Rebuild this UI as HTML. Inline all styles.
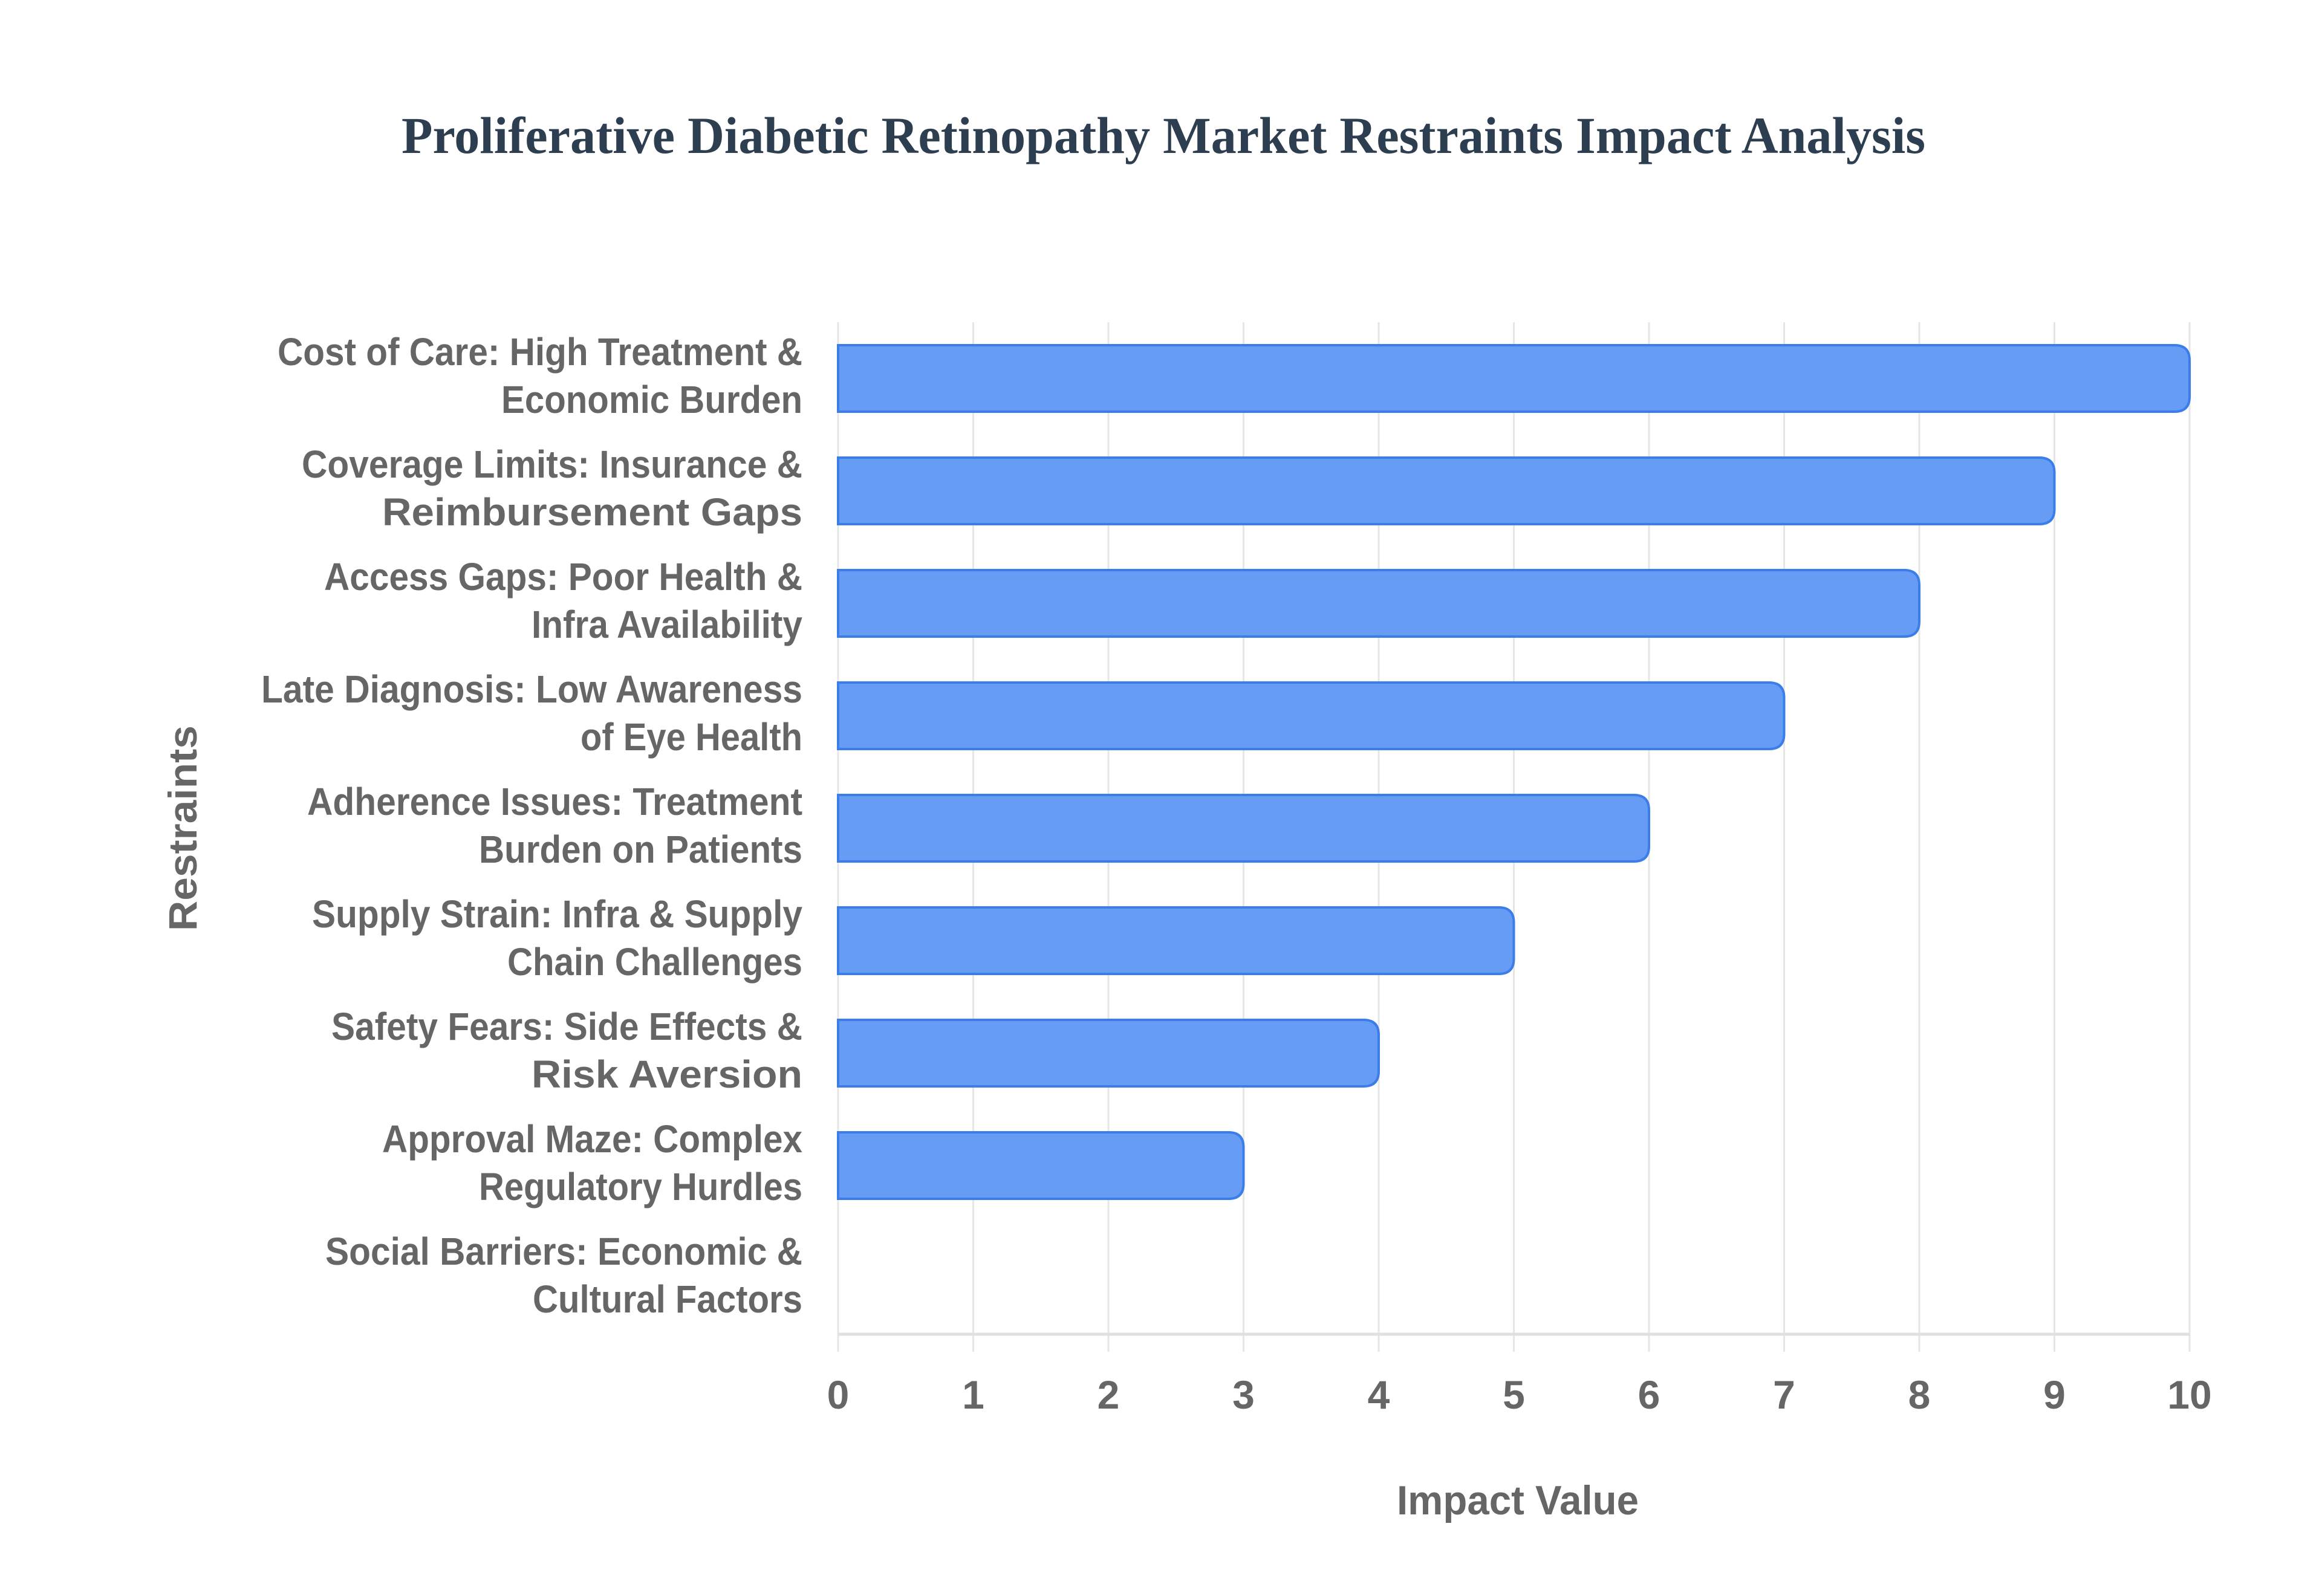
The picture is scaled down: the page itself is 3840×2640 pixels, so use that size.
<!DOCTYPE html>
<html><head><meta charset="utf-8"><style>
html,body{margin:0;padding:0;background:#fff;}
svg{display:block;}
</style></head><body>
<svg width="3840" height="2640" viewBox="0 0 3840 2640" xmlns="http://www.w3.org/2000/svg">
<rect width="3840" height="2640" fill="#fff"/>
<text x="1924" y="253" text-anchor="middle" font-family="Liberation Serif, serif" font-weight="bold" font-size="86" fill="#2c3e50" textLength="2520" lengthAdjust="spacingAndGlyphs">Proliferative Diabetic Retinopathy Market Restraints Impact Analysis</text>
<g stroke="#e6e6e6" stroke-width="3">
<line x1="1386" y1="533" x2="1386" y2="2236"/>
<line x1="1609.5" y1="533" x2="1609.5" y2="2236"/>
<line x1="1833" y1="533" x2="1833" y2="2236"/>
<line x1="2056.5" y1="533" x2="2056.5" y2="2236"/>
<line x1="2280" y1="533" x2="2280" y2="2236"/>
<line x1="2503.5" y1="533" x2="2503.5" y2="2236"/>
<line x1="2727" y1="533" x2="2727" y2="2236"/>
<line x1="2950.5" y1="533" x2="2950.5" y2="2236"/>
<line x1="3174" y1="533" x2="3174" y2="2236"/>
<line x1="3397.5" y1="533" x2="3397.5" y2="2236"/>
<line x1="3621" y1="533" x2="3621" y2="2236"/>
</g>
<line x1="1386" y1="2207" x2="3621" y2="2207" stroke="#e0e0e0" stroke-width="5"/>
<g fill="#6199f4" fill-opacity="0.97" stroke="#3b7de9" stroke-width="4">
<path d="M1386 571 H3596 Q3621 571 3621 596 V656 Q3621 681 3596 681 H1386 Z"/>
<path d="M1386 757 H3372.5 Q3397.5 757 3397.5 782 V842 Q3397.5 867 3372.5 867 H1386 Z"/>
<path d="M1386 943 H3149 Q3174 943 3174 968 V1028 Q3174 1053 3149 1053 H1386 Z"/>
<path d="M1386 1129 H2925.5 Q2950.5 1129 2950.5 1154 V1214 Q2950.5 1239 2925.5 1239 H1386 Z"/>
<path d="M1386 1315 H2702 Q2727 1315 2727 1340 V1400 Q2727 1425 2702 1425 H1386 Z"/>
<path d="M1386 1501 H2478.5 Q2503.5 1501 2503.5 1526 V1586 Q2503.5 1611 2478.5 1611 H1386 Z"/>
<path d="M1386 1687 H2255 Q2280 1687 2280 1712 V1772 Q2280 1797 2255 1797 H1386 Z"/>
<path d="M1386 1873 H2031.5 Q2056.5 1873 2056.5 1898 V1958 Q2056.5 1983 2031.5 1983 H1386 Z"/>
</g>
<g font-family="Liberation Sans, sans-serif" font-weight="bold" font-size="64" fill="#666" text-anchor="end">
<text x="1327" y="604" textLength="868" lengthAdjust="spacingAndGlyphs">Cost of Care: High Treatment &amp;</text>
<text x="1327" y="683" textLength="498" lengthAdjust="spacingAndGlyphs">Economic Burden</text>
<text x="1327" y="790" textLength="828" lengthAdjust="spacingAndGlyphs">Coverage Limits: Insurance &amp;</text>
<text x="1327" y="869" textLength="695" lengthAdjust="spacingAndGlyphs">Reimbursement Gaps</text>
<text x="1327" y="976" textLength="791" lengthAdjust="spacingAndGlyphs">Access Gaps: Poor Health &amp;</text>
<text x="1327" y="1055" textLength="448" lengthAdjust="spacingAndGlyphs">Infra Availability</text>
<text x="1327" y="1162" textLength="895" lengthAdjust="spacingAndGlyphs">Late Diagnosis: Low Awareness</text>
<text x="1327" y="1241" textLength="367" lengthAdjust="spacingAndGlyphs">of Eye Health</text>
<text x="1327" y="1348" textLength="819" lengthAdjust="spacingAndGlyphs">Adherence Issues: Treatment</text>
<text x="1327" y="1427" textLength="535" lengthAdjust="spacingAndGlyphs">Burden on Patients</text>
<text x="1327" y="1534" textLength="811" lengthAdjust="spacingAndGlyphs">Supply Strain: Infra &amp; Supply</text>
<text x="1327" y="1613" textLength="488" lengthAdjust="spacingAndGlyphs">Chain Challenges</text>
<text x="1327" y="1720" textLength="779" lengthAdjust="spacingAndGlyphs">Safety Fears: Side Effects &amp;</text>
<text x="1327" y="1799" textLength="448" lengthAdjust="spacingAndGlyphs">Risk Aversion</text>
<text x="1327" y="1906" textLength="695" lengthAdjust="spacingAndGlyphs">Approval Maze: Complex</text>
<text x="1327" y="1985" textLength="535" lengthAdjust="spacingAndGlyphs">Regulatory Hurdles</text>
<text x="1327" y="2092" textLength="789" lengthAdjust="spacingAndGlyphs">Social Barriers: Economic &amp;</text>
<text x="1327" y="2171" textLength="446" lengthAdjust="spacingAndGlyphs">Cultural Factors</text>
</g>
<g font-family="Liberation Sans, sans-serif" font-weight="bold" font-size="66" fill="#666" text-anchor="middle">
<text x="1386" y="2330">0</text>
<text x="1609.5" y="2330">1</text>
<text x="1833" y="2330">2</text>
<text x="2056.5" y="2330">3</text>
<text x="2280" y="2330">4</text>
<text x="2503.5" y="2330">5</text>
<text x="2727" y="2330">6</text>
<text x="2950.5" y="2330">7</text>
<text x="3174" y="2330">8</text>
<text x="3397.5" y="2330">9</text>
<text x="3621" y="2330">10</text>
</g>
<text x="2510" y="2505" text-anchor="middle" font-family="Liberation Sans, sans-serif" font-weight="bold" font-size="68" fill="#666" textLength="400" lengthAdjust="spacingAndGlyphs">Impact Value</text>
<text transform="translate(325,1370) rotate(-90)" text-anchor="middle" font-family="Liberation Sans, sans-serif" font-weight="bold" font-size="66" fill="#666" textLength="340" lengthAdjust="spacingAndGlyphs">Restraints</text>
</svg>
</body></html>
